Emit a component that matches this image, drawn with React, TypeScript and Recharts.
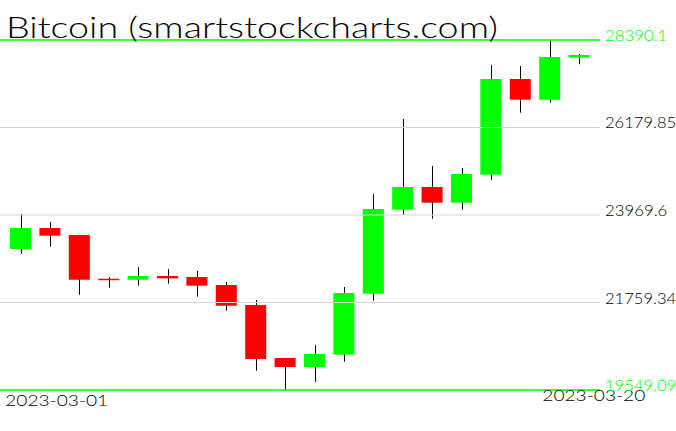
import { BarChart, Bar, XAxis, YAxis, ReferenceLine } from "recharts";

const dates = [
  "2023-03-01", "2023-03-02", "2023-03-03", "2023-03-04", "2023-03-05",
  "2023-03-06", "2023-03-07", "2023-03-08", "2023-03-09", "2023-03-10",
  "2023-03-11", "2023-03-12", "2023-03-13", "2023-03-14", "2023-03-15",
  "2023-03-16", "2023-03-17", "2023-03-18", "2023-03-19", "2023-03-20",
];
const opens = [
  23111, 23641, 23465, 22360, 22335, 22429, 22404, 22201, 21696, 20357,
  20130, 20441, 21982, 24103, 24677, 24280, 24988, 27405, 26882, 27943,
];
const highs = [
  23995, 23793, 23472, 22396, 22656, 22605, 22555, 22277, 21822, 20362,
  20686, 22151, 24500, 26394, 25207, 25157, 27759, 27733, 28390.1, 28036,
];
const lows = [
  22992, 23169, 21956, 22133, 22184, 22234, 21906, 21552, 20037, 19549.09,
  19751, 20264, 21805, 23977, 23876, 24103, 24854, 26554, 26806, 27776,
];
const closes = [
  23641, 23447, 22335, 22330, 22429, 22370, 22184, 21678, 20332, 20130,
  20458, 21999, 24121, 24677, 24280, 25005, 27405, 26882, 27961, 28011,
];
const yTicks = [19549.09, 21759.34, 23969.6, 26179.85, 28390.1];
const gridLevels = [21759.34, 23969.6, 26179.85];

const UP = "#00ff00";
const DOWN = "#ff0000";
const FONT = "Lato, 'DejaVu Sans', sans-serif";

const rows = dates.map((d, i) => ({
  date: d,
  open: opens[i],
  high: highs[i],
  low: lows[i],
  close: closes[i],
  range: [lows[i], highs[i]],
}));

const yMin = Math.min(...lows);
const yMax = Math.max(...highs);

// wick + body, body placed by interpolating inside the low..high bar
function Candle(props: any) {
  const { x, y, width, height, payload } = props;
  if (!payload) return null;
  const { open, close, high, low } = payload;
  const top = Math.min(y, y + height);
  const h = Math.abs(height);
  const per = h / (high - low);
  const toY = (v: number) => top + (high - v) * per;
  const bTop = toY(Math.max(open, close));
  const bBot = toY(Math.min(open, close));
  const cx = Math.round(x + width / 2) + 0.5;
  return (
    <g>
      <line x1={cx} x2={cx} y1={top} y2={top + h} stroke="#000" strokeWidth={1} />
      <rect
        x={x}
        y={bTop}
        width={width}
        height={Math.max(bBot - bTop, 1.5)}
        fill={close >= open ? UP : DOWN}
      />
    </g>
  );
}

function DateTick(props: any) {
  const { x, y, payload } = props;
  const first = payload.value === dates[0];
  return (
    <text
      x={first ? x - 15.5 : x + 14.5}
      y={first ? y + 16 : y + 11}
      textAnchor={first ? "start" : "middle"}
      fontFamily={FONT}
      fontWeight={300}
      fontSize={16}
      fill="#000"
      textLength={103}
      lengthAdjust="spacingAndGlyphs"
    >
      {payload.value}
    </text>
  );
}

function PriceTick(props: any) {
  const { x, y, payload } = props;
  const edge = payload.value === yMin || payload.value === yMax;
  const s = String(payload.value);
  return (
    <text
      x={x}
      y={y + 1}
      fontFamily={FONT}
      fontWeight={300}
      fontSize={16}
      fill={edge ? UP : "#000"}
      textLength={s.length * 8.9}
      lengthAdjust="spacingAndGlyphs"
    >
      {s}
    </text>
  );
}

export default function App() {
  return (
    <div style={{ position: "absolute", left: 0, top: 0, width: 676, height: 431, background: "#fff" }}>
      <BarChart
        width={676}
        height={431}
        data={rows}
        margin={{ top: 40, right: 0, bottom: 0, left: 0 }}
        barSize={21}
      >
        <XAxis
          dataKey="date"
          ticks={[dates[0], dates[dates.length - 1]]}
          interval={0}
          tick={<DateTick />}
          tickLine={false}
          axisLine={false}
          tickSize={0}
          tickMargin={0}
          height={41}
          padding={{ left: 6, right: 6 }}
        />
        <YAxis
          orientation="right"
          width={76}
          domain={[yMin, yMax]}
          ticks={yTicks}
          tick={<PriceTick />}
          tickLine={false}
          axisLine={false}
          tickSize={0}
          tickMargin={5}
        />
        <Bar dataKey="range" shape={<Candle />} isAnimationActive={false} />
        {gridLevels.map((v) => (
          <ReferenceLine key={v} y={v} stroke="#d3d3d3" strokeWidth={1} />
        ))}
        <ReferenceLine y={yMax} stroke={UP} strokeWidth={1.5} />
        <ReferenceLine y={yMin} stroke={UP} strokeWidth={1.5} />
      </BarChart>
      <svg
        width={676}
        height={60}
        style={{ position: "absolute", left: 0, top: 0, pointerEvents: "none" }}
      >
        <text
          x={6}
          y={38}
          fontFamily={FONT}
          fontWeight={300}
          fontSize={30}
          fill="#000"
          textLength={492}
          lengthAdjust="spacingAndGlyphs"
        >
          Bitcoin (smartstockcharts.com)
        </text>
      </svg>
    </div>
  );
}
